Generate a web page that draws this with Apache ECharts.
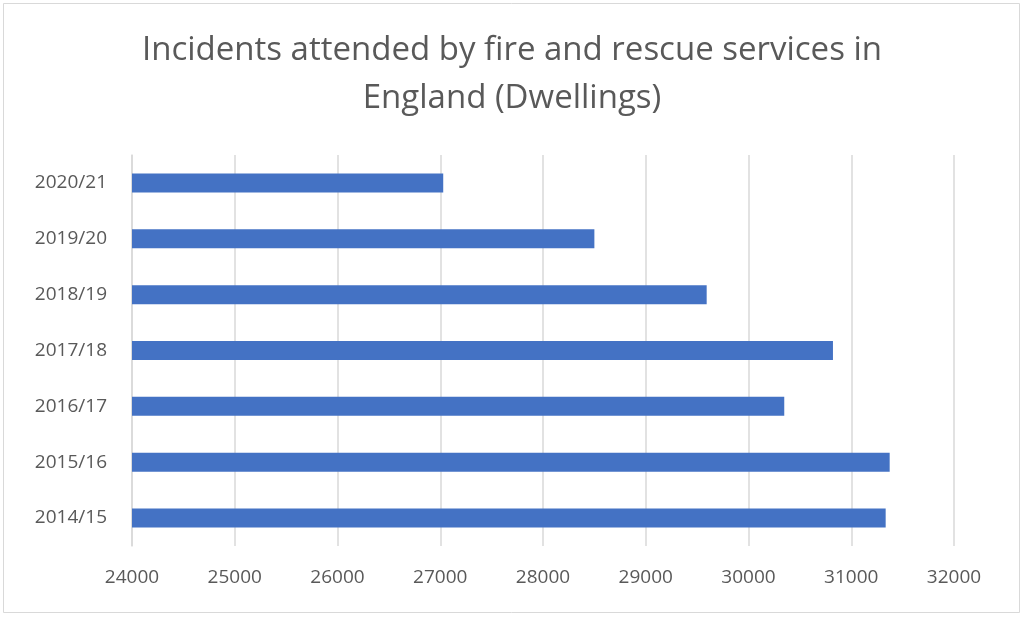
<!DOCTYPE html>
<html>
<head>
<meta charset="utf-8">
<script src="https://cdn.jsdelivr.net/npm/echarts@6/dist/echarts.min.js"></script>
<style>
  html, body { margin: 0; padding: 0; background: #fff; }
  #chart { width: 1024px; height: 618px; }
</style>
</head>
<body>
<div id="chart"></div>
<script>
// years, bottom to top
const years = ['2014/15', '2015/16', '2016/17', '2017/18', '2018/19', '2019/20', '2020/21']
const incidents = [31335, 31374, 30348, 30822, 29593, 28500, 27029]

const chart = echarts.init(document.getElementById('chart'))

const textColor = '#595959'
const fontFamily = 'Open Sans, Liberation Sans, sans-serif'

const option = {
    animation: false,
    backgroundColor: '#fff',
    title: {
        text: 'Incidents attended by fire and rescue services in\nEngland (Dwellings)',
        left: 'center',
        top: 22,
        textStyle: {
            color: textColor,
            fontFamily: fontFamily,
            fontWeight: 'normal',
            fontSize: 33,
            lineHeight: 48
        }
    },
    graphic: [{
        type: 'rect',
        shape: { x: 3.5, y: 3.5, width: 1016, height: 609 },
        style: { fill: 'none', stroke: '#d9d9d9', lineWidth: 1 },
        silent: true
    }],
    grid: {
        left: 132,
        right: 70,
        top: 155,
        bottom: 72
    },
    xAxis: {
        type: 'value',
        min: 24000,
        max: 32000,
        interval: 1000,
        axisLine: { show: false },
        axisTick: { show: false },
        axisLabel: {
            color: textColor,
            fontFamily: fontFamily,
            fontSize: 19,
            margin: 22,
            formatter: (v) => String(v)
        },
        splitLine: {
            lineStyle: { color: '#d9d9d9', width: 1.5 }
        }
    },
    yAxis: {
        type: 'category',
        data: years,
        axisLine: { lineStyle: { color: '#d9d9d9', width: 1.5 } },
        axisTick: { show: false },
        axisLabel: {
            color: textColor,
            fontFamily: fontFamily,
            fontSize: 19,
            margin: 25
        }
    },
    series: [{
        type: 'bar',
        data: incidents,
        barWidth: '34%',
        itemStyle: { color: '#4472c4' }
    }]
}

chart.setOption(option)
</script>
</body>
</html>
